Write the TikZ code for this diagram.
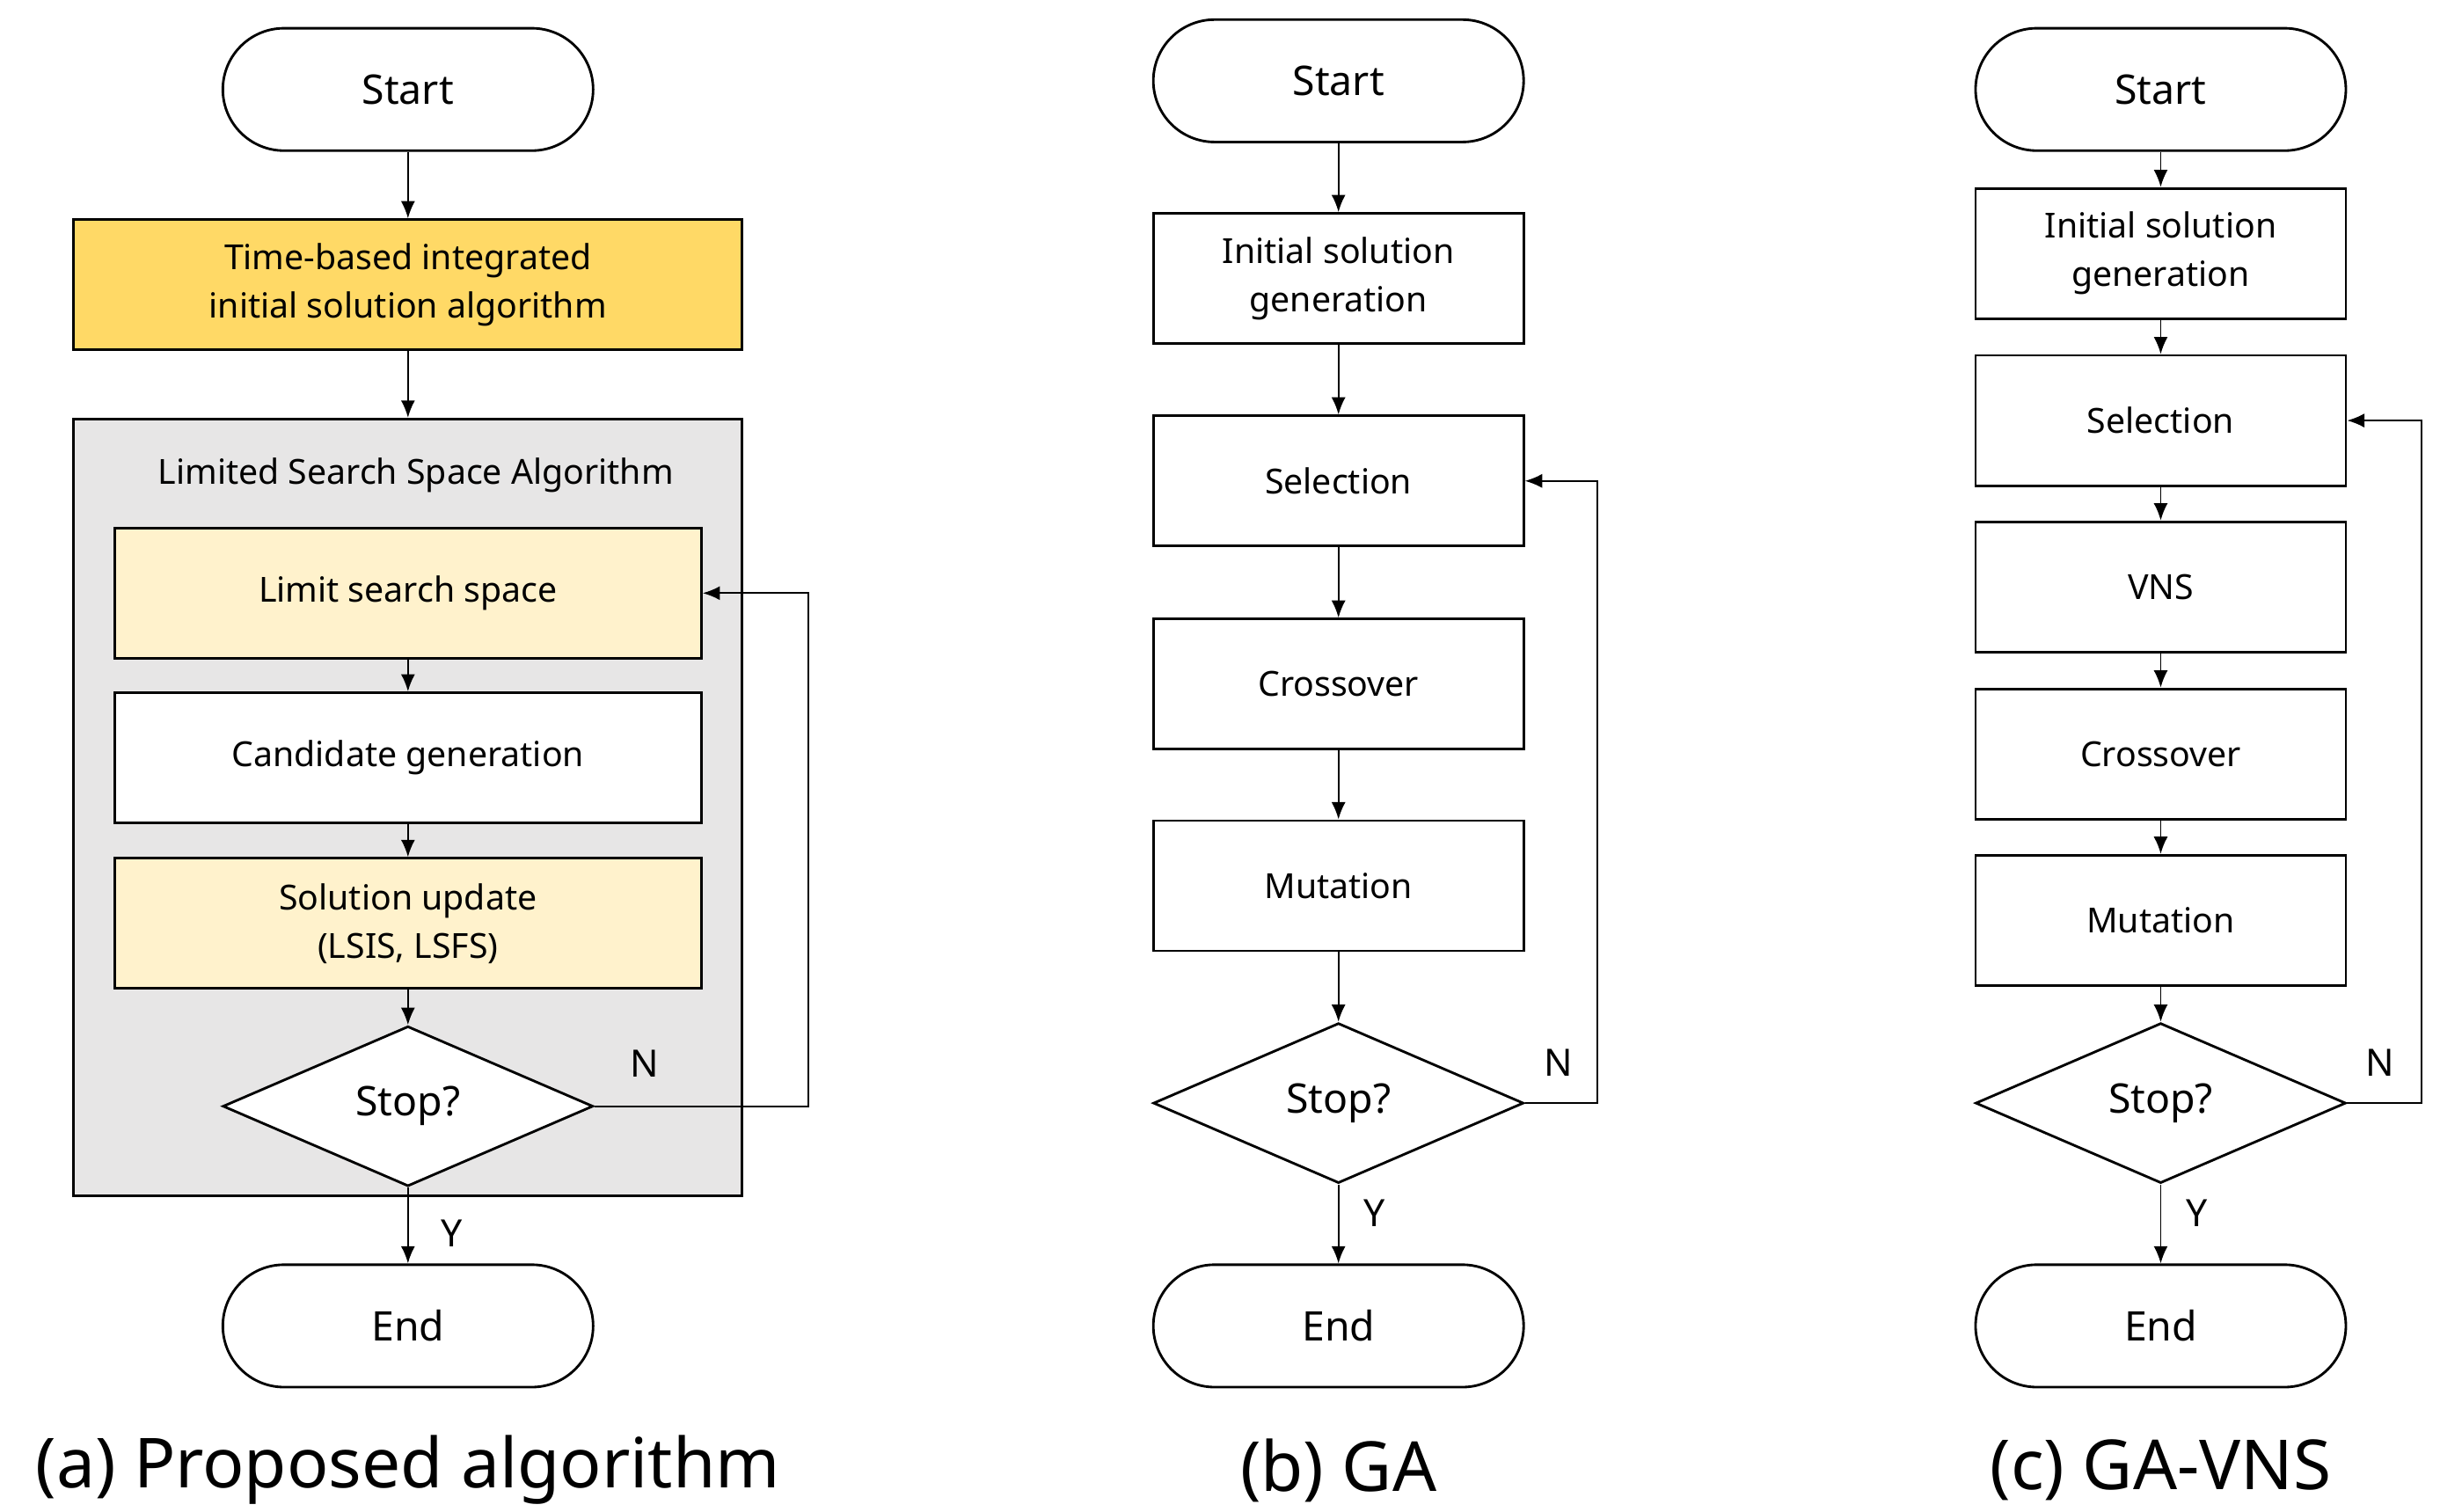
\documentclass[tikz,border=0pt]{standalone}
\usepackage{fontspec}
\setmainfont{Noto Sans}
\usetikzlibrary{arrows.meta,shapes.geometric}
\begin{document}
\begin{tikzpicture}[x=1pt,y=-1pt,
  box/.style={draw,line width=1.6pt,minimum width=236pt,minimum height=83pt,inner sep=0pt,align=center,font=\bfseries\fontsize{22}{31}\selectfont},
  wbox/.style={box,minimum width=374pt},
  term/.style={draw,line width=1.6pt,rounded corners=39pt,minimum width=236pt,minimum height=78pt,font=\bfseries\fontsize{26}{32}\selectfont},
  dec/.style={draw,line width=1.6pt,diamond,aspect=2.3,minimum width=236pt,minimum height=102pt,inner sep=0pt,font=\bfseries\fontsize{26}{32}\selectfont},
  arr/.style={line width=1.1pt,-{Latex[length=11pt,width=9pt]}},
  lab/.style={font=\bfseries\fontsize{24}{30}\selectfont},
  captxt/.style={font=\fontsize{44}{52}\selectfont}]
\useasboundingbox (0,0) rectangle (1555,963.6);
% (a)
\node[term] (aS) at (260,57) {Start};
\node[box,minimum width=426pt,fill={rgb,255:red,255;green,217;blue,102}] (aT) at (260,181.5) {Time-based integrated\\initial solution algorithm};
\node[draw,line width=1.6pt,fill={rgb,255:red,231;green,230;blue,230},minimum width=426pt,minimum height=495pt,inner sep=0pt] (aG) at (260,514.5) {};
\node[lab,font=\bfseries\fontsize{22}{28}\selectfont] (aL) at (265,303) {Limited Search Space Algorithm};
\node[wbox,fill={rgb,255:red,255;green,242;blue,204}] (a1) at (260,378) {Limit search space};
\node[wbox,fill=white] (a2) at (260,483) {Candidate generation};
\node[wbox,fill={rgb,255:red,255;green,242;blue,204}] (a3) at (260,588.5) {Solution update\\(LSIS, LSFS)};
\node[dec,fill=white] (aD) at (260,705) {Stop?};
\node[term] (aE) at (260,845) {End};
\node[lab] at (411,678) {N};
\node[lab] at (288,786) {Y};
\coordinate (aC) at (515,705);
\draw[arr] (aS) -- (aT);
\draw[arr] (aT) -- (aG.north);
\draw[arr] (a1) -- (a2);
\draw[arr] (a2) -- (a3);
\draw[arr] (a3) -- (aD);
\draw[arr] (aD) -- (aE);
\draw[arr] (aD.east) -- (aC) |- (a1.east);
\node[captxt] at (260,937) {(a) Proposed algorithm};
% (b)
\node[term] (bS) at (853,51.5) {Start};
\node[box] (b1) at (853,177.5) {Initial solution\\generation};
\node[box] (b2) at (853,306.5) {Selection};
\node[box] (b3) at (853,436) {Crossover};
\node[box] (b4) at (853,564.5) {Mutation};
\node[dec] (bD) at (853,703) {Stop?};
\node[term] (bE) at (853,845) {End};
\node[lab] at (993,677) {N};
\node[lab] at (876,773) {Y};
\coordinate (bC) at (1018,703);
\draw[arr] (bS) -- (b1);
\draw[arr] (b1) -- (b2);
\draw[arr] (b2) -- (b3);
\draw[arr] (b3) -- (b4);
\draw[arr] (b4) -- (bD);
\draw[arr] (bD) -- (bE);
\draw[arr] (bD.east) -- (bC) |- (b2.east);
\node[captxt] at (853,937) {(b) GA};
% (c)
\node[term] (cS) at (1377,57) {Start};
\node[box] (c1) at (1377,161.5) {Initial solution\\generation};
\node[box] (c2) at (1377,268) {Selection};
\node[box] (c3) at (1377,374) {VNS};
\node[box] (c4) at (1377,480.5) {Crossover};
\node[box] (c5) at (1377,586.5) {Mutation};
\node[dec] (cD) at (1377,703) {Stop?};
\node[term] (cE) at (1377,845) {End};
\node[lab] at (1517,677) {N};
\node[lab] at (1400,773) {Y};
\coordinate (cC) at (1543,703);
\draw[arr] (cS) -- (c1);
\draw[arr] (c1) -- (c2);
\draw[arr] (c2) -- (c3);
\draw[arr] (c3) -- (c4);
\draw[arr] (c4) -- (c5);
\draw[arr] (c5) -- (cD);
\draw[arr] (cD) -- (cE);
\draw[arr] (cD.east) -- (cC) |- (c2.east);
\node[captxt] at (1377,937) {(c) GA-VNS};
\end{tikzpicture}
\end{document}
